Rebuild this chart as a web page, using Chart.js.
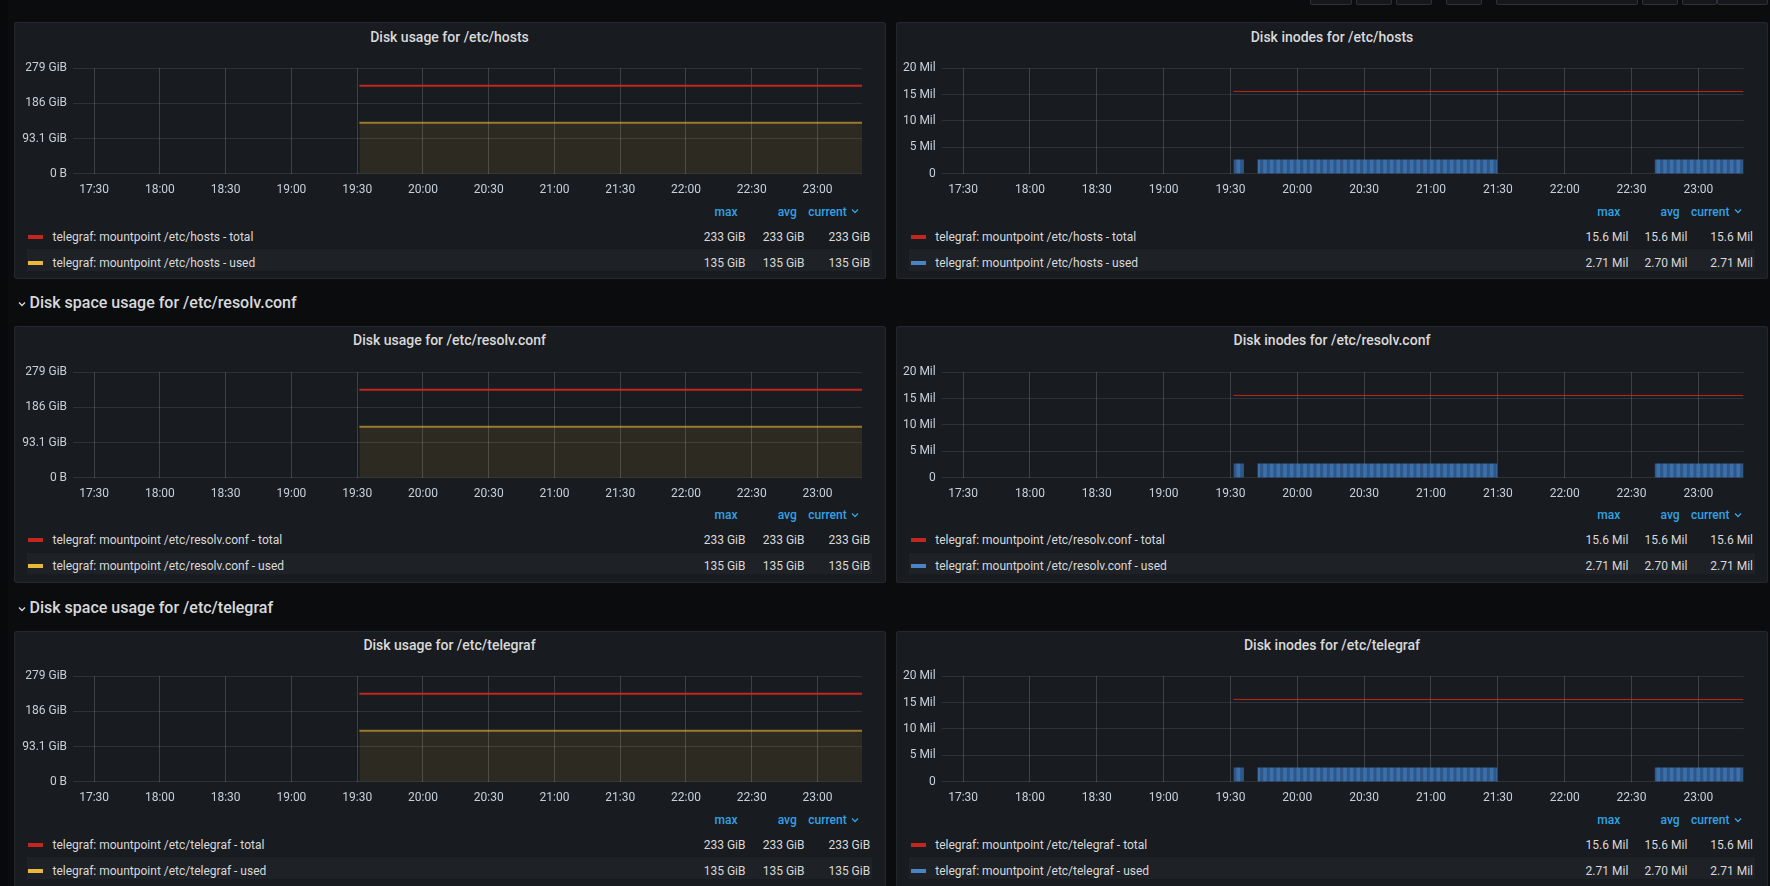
<!DOCTYPE html>
<html><head><meta charset="utf-8">
<script src="https://cdn.jsdelivr.net/npm/chart.js@4.4.0/dist/chart.umd.min.js"></script>
<style>
html,body{margin:0;padding:0;}
body{width:1770px;height:886px;overflow:hidden;position:relative;background:#0b0c0e;font-family:Roboto,'Noto Sans',sans-serif;color:#d8d9da;}
.strip{position:absolute;left:0;top:0;width:8px;height:886px;background:#08090b;}
.panel{position:absolute;background:#181b1f;box-shadow:inset 0 0 0 1px #24272b;border-radius:3px;overflow:hidden;}
.ptitle{position:absolute;left:0;width:100%;text-align:center;font-size:14px;font-weight:500;line-height:20px;color:#d8d9da;white-space:nowrap;}
.t{position:absolute;white-space:nowrap;font-size:12px;line-height:16px;color:#d8d9da;}
.r{text-align:right;width:200px;}
.hdr{color:#33a2e5;font-weight:500;}
.band{position:absolute;background:#1e2125;}
.sw{position:absolute;width:15px;height:4px;}
.cw{position:absolute;left:0;}
.sec{position:absolute;left:29.5px;font-size:16px;font-weight:500;line-height:22px;color:#d8d9da;white-space:nowrap;}
.btn{position:absolute;top:-4px;height:9.3px;background:#15171b;border:1px solid #2e3136;border-radius:2px;box-sizing:border-box;}
</style>
</head>
<body>
<div class="strip"></div>
<script>
// ---------- data ----------
const mountpoints = ['/etc/hosts', '/etc/resolv.conf', '/etc/telegraf'];
const timeTickLabels = ['17:30','18:00','18:30','19:00','19:30','20:00','20:30','21:00','21:30','22:00','22:30','23:00'];
const viewRange = ['17:20:24', '23:20:18'];

const diskYTickValues = [0, 93.13, 186.26, 279.40];          // GiB
const diskYTickLabels = ['0 B', '93.1 GiB', '186 GiB', '279 GiB'];
const inodeYTickValues = [0, 5, 10, 15, 20];                  // Mil
const inodeYTickLabels = ['0', '5 Mil', '10 Mil', '15 Mil', '20 Mil'];

const diskTimes = ['19:31:00', '23:20:18'];
const diskTotalGiB = [233, 233];
const diskUsedGiB = [135, 135];

const inodeTotalTimes = ['19:31:20', '23:20:18'];
const inodeTotalMil = [15.6, 15.6];
const inodeUsedTimes = ['19:31:20', '19:36:00', '19:39:00', '19:42:05', '21:29:40', '22:05:00', '22:40:20', '23:20:18'];
const inodeUsedMil = [2.71, 2.71, null, 2.71, 2.71, null, 2.71, 2.71];

const statColumns = ['max', 'avg', 'current'];
const diskTotalStats = ['233 GiB', '233 GiB', '233 GiB'];
const diskUsedStats = ['135 GiB', '135 GiB', '135 GiB'];
const inodeTotalStats = ['15.6 Mil', '15.6 Mil', '15.6 Mil'];
const inodeUsedStats = ['2.71 Mil', '2.70 Mil', '2.71 Mil'];

// ---------- styles ----------
const RED = '#c4261d', YELLOW = '#eab839', BLUE = '#4a83c8';
const TICK_COLOR = '#c7d0d9';

function toMin(s) { const p = s.split(':').map(Number); return p[0] * 60 + p[1] + (p[2] || 0) / 60; }
function pts(times, vals) { return times.map((t, i) => ({ x: toMin(t), y: vals[i] })); }

function stripePattern() {
  const c = document.createElement('canvas'); c.width = 20; c.height = 4;
  const g = c.getContext('2d');
  g.fillStyle = '#2e5889'; g.fillRect(0, 0, 20, 4);
  g.fillStyle = '#3d6fab';
  [0, 6.667, 13.333].forEach(x => g.fillRect(x + 0.5, 0, 3.6, 4));
  return document.createElement('canvas').getContext('2d').createPattern(c, 'repeat');
}

function el(parent, cls, style, text) {
  const d = document.createElement('div'); d.className = cls;
  Object.assign(d.style, style);
  if (text !== undefined) d.textContent = text;
  parent.appendChild(d); return d;
}

function chevron(parent, x, y, color) {
  const s = document.createElementNS('http://www.w3.org/2000/svg', 'svg');
  s.setAttribute('width', 8); s.setAttribute('height', 6);
  s.style.position = 'absolute'; s.style.left = x + 'px'; s.style.top = y + 'px';
  s.innerHTML = '<polyline points="1,1.5 4,4.5 7,1.5" fill="none" stroke="' + color + '" stroke-width="1.3"/>';
  parent.appendChild(s);
}

function makeChart(canvas, kind, W, gridLeft) {
  const isDisk = kind === 'disk';
  const yVals = isDisk ? diskYTickValues : inodeYTickValues;
  const yLabs = isDisk ? diskYTickLabels : inodeYTickLabels;
  const datasets = isDisk ? [
    { data: pts(diskTimes, diskTotalGiB), borderColor: RED, borderWidth: 2, pointRadius: 0, fill: false },
    { data: pts(diskTimes, diskUsedGiB), borderColor: 'rgba(234,184,57,0.6)', borderWidth: 2, pointRadius: 0,
      fill: 'origin', backgroundColor: 'rgba(234,184,57,0.1)' }
  ] : [
    { data: pts(inodeTotalTimes, inodeTotalMil), borderColor: RED, borderWidth: 1, pointRadius: 0, fill: false },
    { data: pts(inodeUsedTimes, inodeUsedMil), borderColor: 'rgba(0,0,0,0)', borderWidth: 1, pointRadius: 0,
      fill: 'origin', backgroundColor: stripePattern(), spanGaps: false }
  ];
  return new Chart(canvas, {
    type: 'line',
    data: { datasets },
    options: {
      responsive: false, animation: false, events: [],
      layout: { padding: { top: 8, right: W - 848, bottom: 0, left: 0 } },
      plugins: { legend: { display: false }, tooltip: { enabled: false } },
      scales: {
        x: {
          type: 'linear', min: toMin(viewRange[0]), max: toMin(viewRange[1]),
          afterBuildTicks: s => { s.ticks = timeTickLabels.map(l => ({ value: toMin(l) })); },
          afterFit: s => { s.height = 24.3; },
          ticks: { callback: (v, i) => timeTickLabels[i], autoSkip: false, maxRotation: 0, padding: 9,
                   color: TICK_COLOR, font: { family: 'Roboto', size: 12 } },
          grid: { color: 'rgba(255,255,255,0.17)', drawTicks: false, lineWidth: 1 },
          border: { display: false }
        },
        y: {
          min: yVals[0], max: yVals[yVals.length - 1],
          afterBuildTicks: s => { s.ticks = yVals.map(v => ({ value: v })); },
          afterFit: s => { s.width = gridLeft; },
          ticks: { callback: (v, i) => yLabs[i], padding: 6, color: TICK_COLOR, font: { family: 'Roboto', size: 12 } },
          grid: { color: 'rgba(255,255,255,0.1)', drawTicks: false, lineWidth: 1 },
          border: { display: false }
        }
      }
    }
  });
}

function makePanel(L, T, W, kind, mp, gridLeft) {
  const p = el(document.body, 'panel', { left: L + 'px', top: T + 'px', width: W + 'px', height: '257px' });
  const isDisk = kind === 'disk';
  el(p, 'ptitle', { top: '4.4px' }, (isDisk ? 'Disk usage for ' : 'Disk inodes for ') + mp);
  const cw = el(p, 'cw', { top: '32.8px', width: W + 'px', height: '143.2px' });
  const cv = document.createElement('canvas'); cv.width = W; cv.height = 143.2; cw.appendChild(cv);
  makeChart(cv, kind, W, gridLeft);

  // legend header
  const hdrRights = [724, 783.3, 833.2];
  statColumns.forEach((c, i) => el(p, 't r hdr', { left: (hdrRights[i] - 200) + 'px', top: (190.4 - 9) + 'px' }, c));
  chevron(p, 837.5, 186, '#33a2e5');

  const rows = isDisk
    ? [['total', RED, diskTotalStats], ['used', YELLOW, diskUsedStats]]
    : [['total', RED, inodeTotalStats], ['used', BLUE, inodeUsedStats]];
  const rowY = [214.4, 240.4];
  const valRights = [732, 791, 856.7];
  el(p, 'band', { left: '13px', width: '845.5px', top: '226.7px', height: '21.7px' });
  rows.forEach((r, k) => {
    const y = rowY[k];
    el(p, 'sw', { left: '14.6px', top: (y - 2) + 'px', background: r[1] });
    el(p, 't', { left: '39px', top: (y - 8) + 'px' }, 'telegraf: mountpoint ' + mp + ' - ' + r[0]);
    r[2].forEach((v, i) => el(p, 't r', { left: (valRights[i] - 200) + 'px', top: (y - 8) + 'px' }, v));
  });
}

// top toolbar (cut off)
[[1310, 1351.7], [1356.3, 1391.7], [1396.3, 1431.7], [1446.3, 1481.7], [1496.3, 1637.7], [1642.3, 1677.7], [1682.3, 1717.3], [1717.3, 1768.3]]
  .forEach(b => el(document.body, 'btn', { left: b[0] + 'px', width: (b[1] - b[0]) + 'px' }));

const panelTops = [22.3, 326, 630.7];
mountpoints.forEach((mp, i) => {
  const T = panelTops[i];
  if (i > 0) {
    const hy = T - 22.7;
    el(document.body, 'sec', { top: (hy - 11) + 'px' }, 'Disk space usage for ' + mp);
    chevron(document.body, 17.5, hy - 2.5, '#d8d9da');
  }
  makePanel(13.5, T, 872, 'disk', mp, 59.1);
  makePanel(896.3, T, 871.4, 'inode', mp, 45.7);
});
</script>
</body></html>
